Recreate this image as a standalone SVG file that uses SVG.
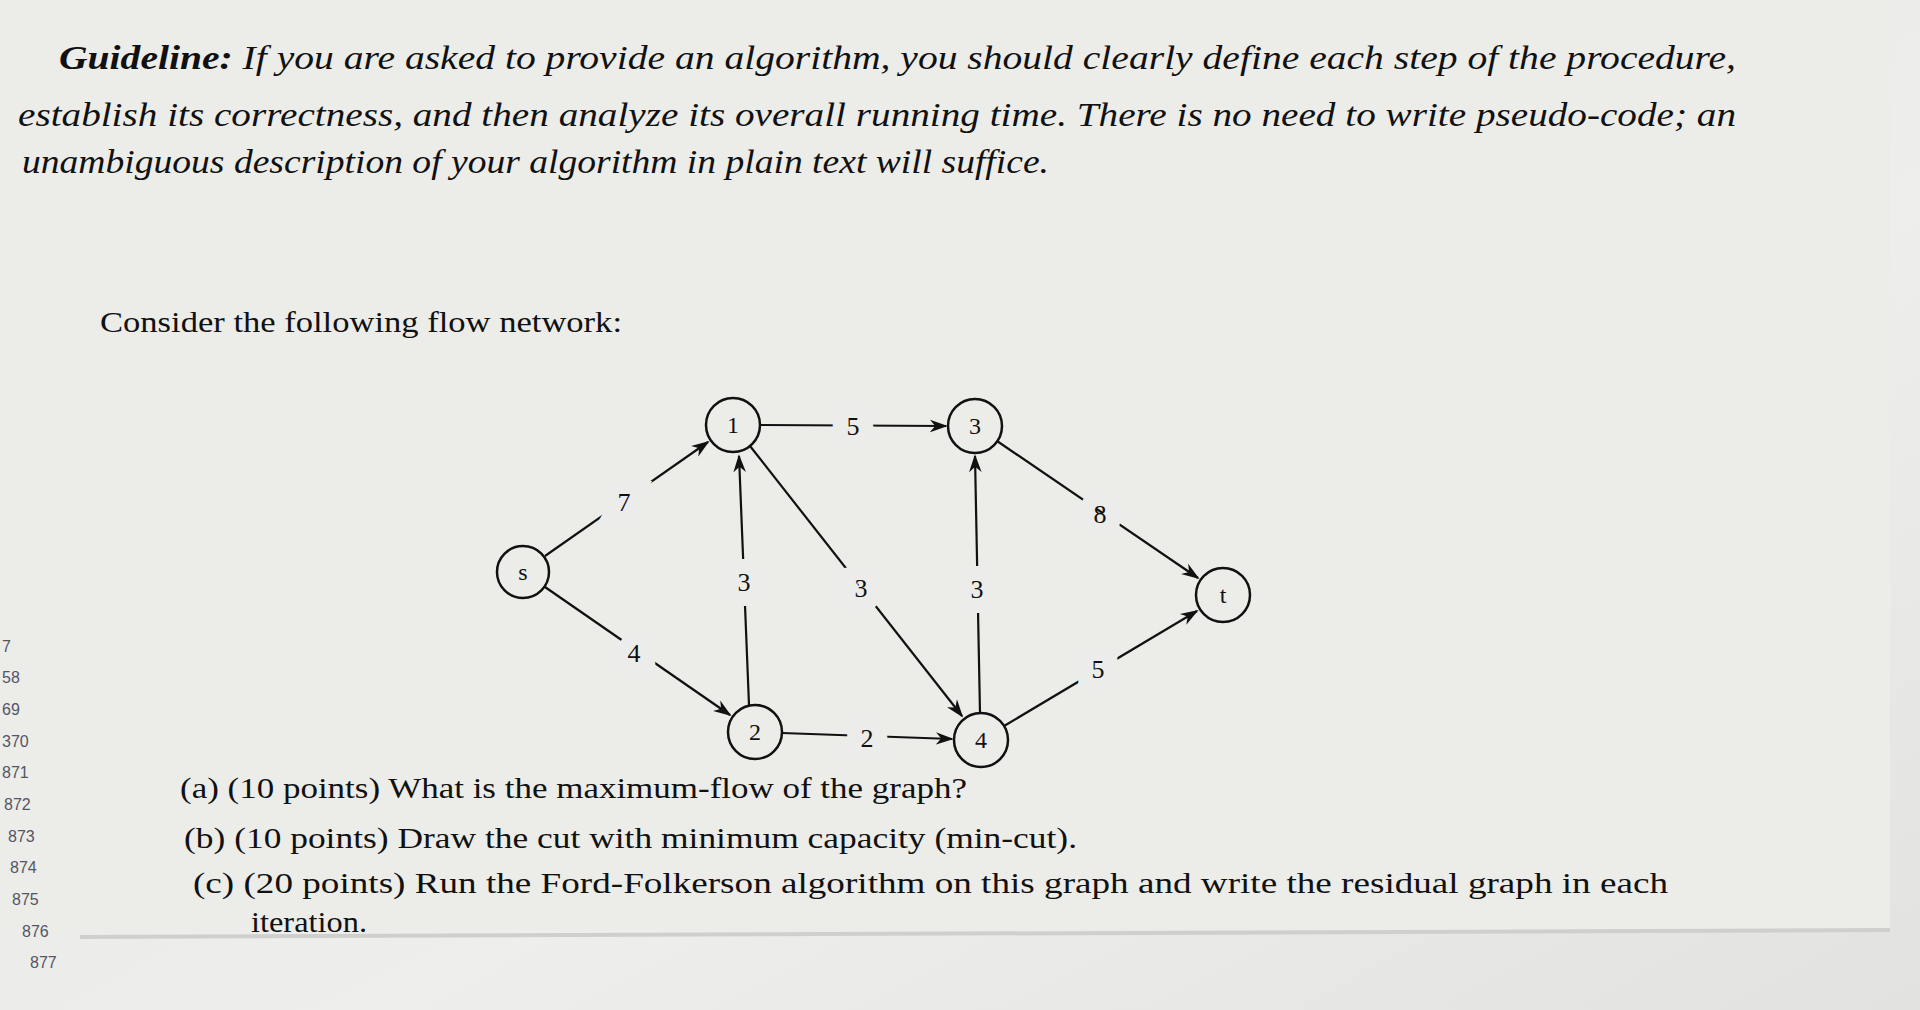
<svg xmlns="http://www.w3.org/2000/svg" width="1920" height="1010" viewBox="0 0 1920 1010">
<defs>
<linearGradient id="bg" x1="0" y1="0" x2="1" y2="1">
<stop offset="0" stop-color="#e4e4e2"/><stop offset="0.6" stop-color="#eeeeec"/><stop offset="1" stop-color="#e2e2e0"/>
</linearGradient>
<marker id="ah" viewBox="0 0 10 10" refX="9" refY="5" markerWidth="18" markerHeight="18" orient="auto" markerUnits="userSpaceOnUse">
<path d="M0,1.5 L10,5 L0,8.5 L3,5 Z" fill="#111"/>
</marker>
<style>
.it{font-family:"Liberation Serif",serif;font-style:italic;font-size:34px;fill:#111}
.tx{font-family:"Liberation Serif",serif;font-size:29px;fill:#111}
.nd{fill:none;stroke:#111;stroke-width:2.5}
.nl{font-family:"Liberation Serif",serif;font-size:24px;fill:#111;text-anchor:middle;dominant-baseline:central}
.e{stroke:#111;stroke-width:2.2;fill:none;marker-end:url(#ah)}
.lb{font-family:"Liberation Serif",serif;font-size:26px;fill:#111;text-anchor:middle;dominant-baseline:central;stroke:#ececea;stroke-width:30px;paint-order:stroke}
.mg{font-family:"Liberation Sans",sans-serif;font-size:16px;fill:#556}
</style>
</defs>
<rect width="1920" height="1010" fill="url(#bg)"/>
<rect x="0" y="0" width="1890" height="930" fill="#ecece9"/>
<line x1="80" y1="937" x2="1890" y2="930" stroke="#cfcfcd" stroke-width="4"/>
<g id="text">
<text class="it" x="59" y="69" textLength="1677" lengthAdjust="spacingAndGlyphs"><tspan font-weight="bold">Guideline:</tspan> If you are asked to provide an algorithm, you should clearly define each step of the procedure,</text>
<text class="it" x="18" y="126" textLength="1718" lengthAdjust="spacingAndGlyphs">establish its correctness, and then analyze its overall running time. There is no need to write pseudo-code; an</text>
<text class="it" x="22" y="173" textLength="1027" lengthAdjust="spacingAndGlyphs">unambiguous description of your algorithm in plain text will suffice.</text>
<text class="tx" x="100" y="332" textLength="522" lengthAdjust="spacingAndGlyphs">Consider the following flow network:</text>
<text class="tx" x="180" y="798" textLength="787" lengthAdjust="spacingAndGlyphs">(a) (10 points) What is the maximum-flow of the graph?</text>
<text class="tx" x="184" y="848" textLength="893" lengthAdjust="spacingAndGlyphs">(b) (10 points) Draw the cut with minimum capacity (min-cut).</text>
<text class="tx" x="193" y="893" textLength="1475" lengthAdjust="spacingAndGlyphs">(c) (20 points) Run the Ford-Folkerson algorithm on this graph and write the residual graph in each</text>
<text class="tx" x="251" y="932" textLength="116" lengthAdjust="spacingAndGlyphs">iteration.</text>
</g>
<g id="margin" class="mg">
<text x="2" y="652">7</text><text x="2" y="683">58</text><text x="2" y="715">69</text><text x="2" y="747">370</text>
<text x="2" y="778">871</text><text x="4" y="810">872</text><text x="8" y="842">873</text><text x="10" y="873">874</text>
<text x="12" y="905">875</text><text x="22" y="937">876</text><text x="30" y="968">877</text>
</g>
<g id="connectors">
<line class="e" x1="545" y1="556" x2="708" y2="442"/>
<line class="e" x1="545" y1="587" x2="730" y2="715"/>
<line class="e" x1="760" y1="425" x2="946" y2="426"/>
<line class="e" x1="749" y1="705" x2="739" y2="456"/>
<line class="e" x1="750" y1="446" x2="962" y2="716"/>
<line class="e" x1="980" y1="713" x2="975" y2="456"/>
<line class="e" x1="997" y1="441" x2="1198" y2="578"/>
<line class="e" x1="1004" y1="726" x2="1197" y2="611"/>
<line class="e" x1="782" y1="733" x2="952" y2="739"/>
<text class="lb" x="624" y="502">7</text>
<text class="lb" x="634" y="653">4</text>
<text class="lb" x="853" y="426">5</text>
<text class="lb" x="744" y="582">3</text>
<text class="lb" x="861" y="588">3</text>
<text class="lb" x="977" y="589">3</text>
<text class="lb" x="1100" y="514">8</text>
<text class="lb" x="1098" y="669">5</text>
<text class="lb" x="867" y="738">2</text>
</g>
<g id="node-s"><circle class="nd" cx="523" cy="572" r="26"/><text class="nl" x="523" y="572">s</text></g>
<g id="node-1"><circle class="nd" cx="733" cy="425" r="27"/><text class="nl" x="733" y="425">1</text></g>
<g id="node-3"><circle class="nd" cx="975" cy="426" r="27"/><text class="nl" x="975" y="426">3</text></g>
<g id="node-2"><circle class="nd" cx="755" cy="732" r="27"/><text class="nl" x="755" y="732">2</text></g>
<g id="node-4"><circle class="nd" cx="981" cy="740" r="27"/><text class="nl" x="981" y="740">4</text></g>
<g id="node-t"><circle class="nd" cx="1223" cy="595" r="27"/><text class="nl" x="1223" y="595">t</text></g>
</svg>
